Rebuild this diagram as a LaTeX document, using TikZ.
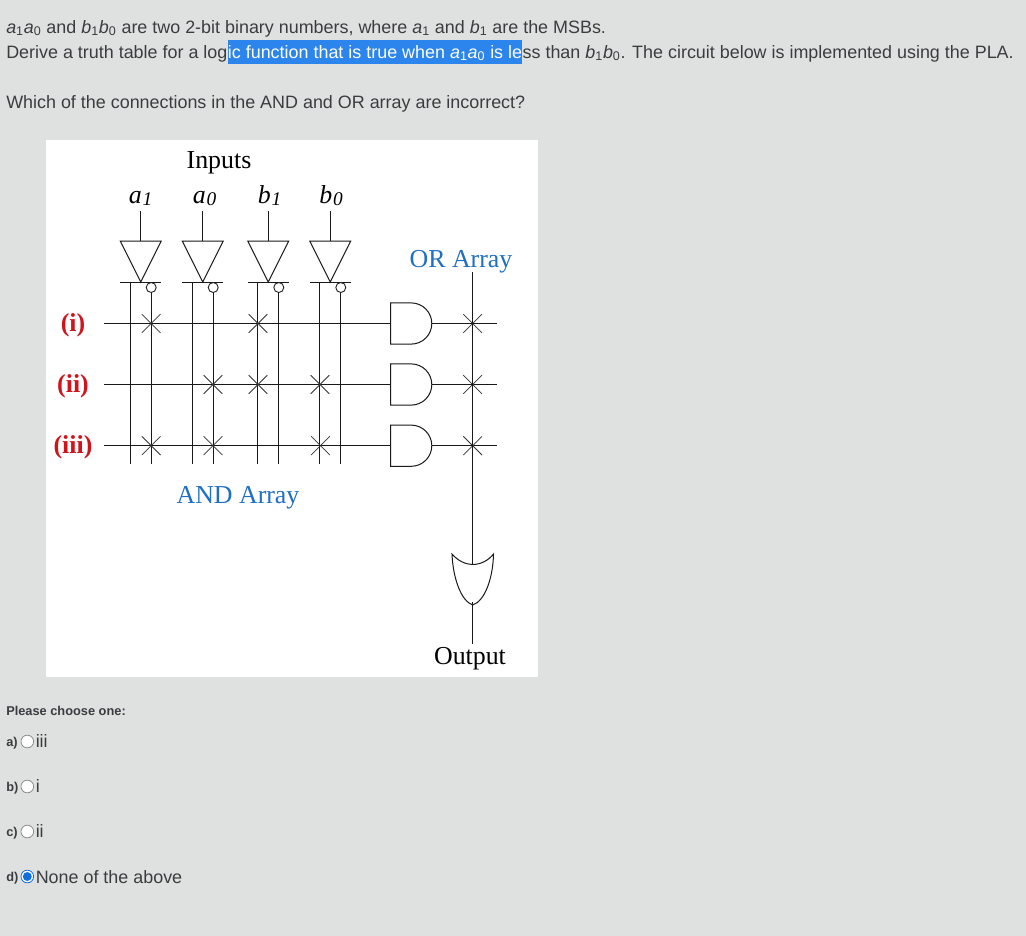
\documentclass[tikz,border=0pt]{standalone}
\usepackage{fontspec}
\setmainfont{Liberation Sans}
\newfontfamily\serifface{Liberation Serif}
\usetikzlibrary{shapes.misc}

\definecolor{pagebg}{HTML}{DFE1E1}
\definecolor{inktext}{HTML}{3A3D3F}
\definecolor{selblue}{HTML}{2B85EC}
\definecolor{arrayblue}{HTML}{1F6FC4}
\definecolor{romanred}{HTML}{D0141C}
\definecolor{radioblue}{HTML}{0F6FDE}

% italic letter with sans subscript for the question text
\newcommand{\vr}[2]{\textit{#1}\textsubscript{#2}}
% serif input label, italic digit sits low
\newcommand{\inlbl}[2]{\textit{#1}\kern0.6pt{\fontsize{14.5pt}{14.5pt}\selectfont\textit{\raisebox{-2pt}{#2}}}}

\begin{document}
\begin{tikzpicture}[
  x=0.75pt, y=-0.75pt,
  wire/.style={line width=0.75pt, draw=black!90},
  xmark/.style={cross out, draw=black!80, line width=0.55pt, minimum size=13.5pt, inner sep=0pt},
  qtext/.style={anchor=base west, inner sep=0pt, text=inktext, font=\fontsize{13.44pt}{16pt}\selectfont},
  sel/.style={qtext, fill=selblue, text=white, text height=13.5pt, text depth=4.5pt},
  opt/.style={anchor=base west, inner sep=0pt, text=inktext, font=\fontsize{9.6pt}{12pt}\bfseries\selectfont},
  radio/.style={circle, draw=black!45, fill=white, line width=0.6pt, minimum size=9.5pt, inner sep=0pt},
  radioon/.style={circle, draw=radioblue, fill=radioblue, line width=0.6pt, minimum size=6pt, inner sep=0pt},
  lbl/.style={inner sep=0pt, font=\serifface\fontsize{19.4pt}{21pt}\selectfont},
  arrlbl/.style={lbl, text=arrayblue},
  rowlbl/.style={lbl, text=romanred, font=\serifface\bfseries\fontsize{19.4pt}{21pt}\selectfont}
]

% page and picture panel
\fill[pagebg] (0,0) rectangle (1026,936);
\fill[white] (46,140) rectangle (538,677);

%======================
% QUESTION TEXT
%======================

\node[qtext] (q1) at (6,33) {\vr{a}{1}\vr{a}{0} and \vr{b}{1}\vr{b}{0} are two 2-bit binary numbers, where \vr{a}{1} and \vr{b}{1} are the MSBs.};
\node[qtext] (q2a) at (6,58) {Derive a truth table for a log};
\node[sel] (q2b) at (q2a.base east) {ic function that is true when \vr{a}{1}\vr{a}{0} is le};
\node[qtext] (q2c) at (q2b.base east) {ss than \vr{b}{1}\vr{b}{0}. The circuit below is implemented using the PLA.};
\node[qtext] (q3) at (6,108) {Which of the connections in the AND and OR array are incorrect?};

%======================
% HELPERS
%======================

\newcommand{\invgate}[2]{%
  % #1 name, #2 centre x
  \coordinate (#1in) at (#2,211);
  \coordinate (#1top) at (#2,241);
  \coordinate (#1tip) at (#2,282);
  \coordinate (#1dot) at (#2+10.5,287.5);
  \coordinate (#1p) at (#2-10.5,282);
  \coordinate (#1pe) at (#2-10.5,464);
  \coordinate (#1ne) at (#2+10.5,464);

  \draw[wire] (#1in) -- (#1top);
  \draw[wire, line join=miter] (#2-20.5,241) -- (#2+20.5,241) -- (#1tip) -- cycle;
  \draw[wire] (#2-20.5,282) -- (#2+20.5,282);
  \node[circle, draw=black!85, line width=0.7pt, minimum size=7.5pt, inner sep=0pt] (#1neg) at (#1dot) {};
  \draw[wire] (#1p) -- (#1pe);
  \draw[wire] (#1neg) -- (#1ne);
}

\newcommand{\andgate}[2]{%
  % #1 name, #2 centre y
  \coordinate (#1) at (390.7,#2);
  \coordinate (#1out) at (431.7,#2);
  \draw[wire] (390.7,#2-20.6) -- (411.2,#2-20.6)
    arc[start angle=-90, end angle=90, radius=20.6]
    -- (390.7,#2+20.6) -- cycle;
}

%======================
% LABELS
%======================

\node[lbl] (inputs) at (219,162.5) {Inputs};
\node[lbl, anchor=base] (la1) at (140.5,203) {\inlbl{a}{1}};
\node[lbl, anchor=base] (la0) at (204.5,203) {\inlbl{a}{0}};
\node[lbl, anchor=base] (lb1) at (269.5,203) {\inlbl{b}{1}};
\node[lbl, anchor=base] (lb0) at (331,203) {\inlbl{b}{0}};
\node[arrlbl] (orlbl) at (461,261.5) {OR Array};
\node[arrlbl] (andlbl) at (238,497.5) {AND Array};
\node[lbl] (outlbl) at (470,658.5) {Output};
\node[rowlbl] (ri) at (73,325) {(i)};
\node[rowlbl] (rii) at (73,386) {(ii)};
\node[rowlbl] (riii) at (73,447.5) {(iii)};

%======================
% INPUT INVERTERS
%======================

\invgate{a1}{140.7}
\invgate{a0}{202.7}
\invgate{b1}{268.3}
\invgate{b0}{330.3}

%======================
% PRODUCT LINES + AND GATES
%======================

\andgate{g1}{323.5}
\andgate{g2}{384.5}
\andgate{g3}{445.7}

\coordinate (w1) at (104,323.5);
\coordinate (w2) at (104,384.5);
\coordinate (w3) at (104,445.7);
\coordinate (e1) at (497,323.5);
\coordinate (e2) at (497,384.5);
\coordinate (e3) at (497,445.7);

\draw[wire] (w1) -- (g1);
\draw[wire] (w2) -- (g2);
\draw[wire] (w3) -- (g3);
\draw[wire] (g1out) -- (e1);
\draw[wire] (g2out) -- (e2);
\draw[wire] (g3out) -- (e3);

%======================
% CONNECTION MARKS
%======================

% AND array
\node[xmark] (x11) at (151.2,323.5) {};
\node[xmark] (x12) at (258,323.5) {};
\node[xmark] (x21) at (213,384.5) {};
\node[xmark] (x22) at (258,384.5) {};
\node[xmark] (x23) at (320,384.5) {};
\node[xmark] (x31) at (151.2,445.7) {};
\node[xmark] (x32) at (213,445.7) {};
\node[xmark] (x33) at (320.5,445.7) {};

% OR array
\node[xmark] (o1) at (472.7,323.5) {};
\node[xmark] (o2) at (472.7,384.5) {};
\node[xmark] (o3) at (472.7,445.7) {};

%======================
% OR GATE + OUTPUT
%======================

\coordinate (ortop) at (472.7,272);
\coordinate (orin) at (472.7,564.5);
\coordinate (orout) at (472.7,605);
\coordinate (orstub) at (472.7,602);
\coordinate (orend) at (472.7,644);

\draw[wire] (ortop) -- (orin);
\draw[wire] (452,554) .. controls (458,561) and (466,564.5) .. (orin)
  .. controls (480,564.5) and (488,561) .. (493.5,554)
  .. controls (493,578) and (485,601) .. (orout)
  .. controls (461,601) and (453,578) .. (452,554) -- cycle;
\draw[wire] (orstub) -- (orend);

%======================
% ANSWER OPTIONS
%======================

\node[opt] (pick) at (6,715) {Please choose one:};

\node[opt] (opta) at (6,746) {a)};
\node[radio] (rada) at (27.3,741.5) {};
\node[qtext] (ansa) at (35.5,747) {iii};

\node[opt] (optb) at (6,791) {b)};
\node[radio] (radb) at (27.3,786.5) {};
\node[qtext] (ansb) at (35.5,792) {i};

\node[opt] (optc) at (6,836) {c)};
\node[radio] (radc) at (27.3,831.5) {};
\node[qtext] (ansc) at (35.5,837) {ii};

\node[opt] (optd) at (6,881) {d)};
\node[radio, draw=radioblue] (radd) at (27.3,876.5) {};
\node[radioon] (dotd) at (27.3,876.5) {};
\node[qtext] (ansd) at (35.5,883) {None of the above};

\end{tikzpicture}
\end{document}
